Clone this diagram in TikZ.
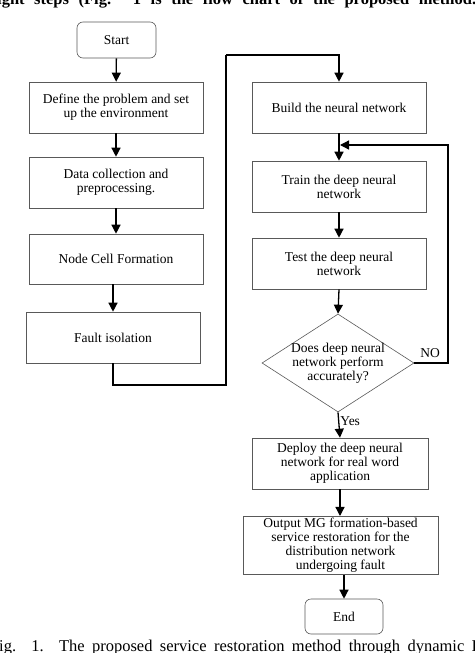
\documentclass[tikz,border=0pt]{standalone}
\usepackage{fontspec}
\setmainfont{Liberation Serif}
\usetikzlibrary{shapes.geometric,arrows.meta}
\begin{document}
\begin{tikzpicture}[x=1pt,y=-1pt,
  box/.style={draw=black!65, line width=0.6pt, minimum width=174pt, minimum height=51pt, align=center, inner sep=2pt, font=\fontsize{13.5}{14}\selectfont},
  term/.style={box, rounded corners=6pt},
  arr/.style={line width=1.3pt, -{Triangle[width=9pt,length=9pt]}},
  ln/.style={line width=1.3pt},
  lab/.style={font=\fontsize{13.5}{14}\selectfont, inner sep=1pt}]
\useasboundingbox (0,0) rectangle (474,653);
\clip (0,0) rectangle (474,653);
% clipped surrounding text
\node[anchor=base west, inner sep=0, font=\fontsize{16.5}{18}\selectfont\bfseries] (toptext) at (-3,5)
  {\makebox[479pt][s]{ight steps (Fig. 1 is the flow chart of the proposed method.}};
\node[anchor=base west, inner sep=0, font=\fontsize{16.5}{18}\selectfont] (caption) at (-1,651)
  {\makebox[478pt][s]{ig. 1. The proposed service restoration method through dynamic I}};
% left column
\node[term, minimum width=79pt, minimum height=36pt] (start) at (116.5,40) {Start};
\node[box] (define) at (116,107.5) {Define the problem and set\\up the environment};
\node[box] (data) at (116,182.5) {Data collection and\\preprocessing.};
\node[box, minimum height=50pt] (cell) at (116,259) {Node Cell Formation};
\node[box] (fault) at (113,337.5) {Fault isolation};
% right column
\node[box] (build) at (339,107.5) {Build the neural network};
\node[box] (train) at (339,186.5) {Train the deep neural\\network};
\node[box] (test) at (339,263.5) {Test the deep neural\\network};
\node[draw=black!65, line width=0.6pt, diamond, minimum width=152pt, minimum height=98pt, inner sep=0pt] (dec) at (338,363) {};
\node[align=center, font=\fontsize{13.5}{14}\selectfont, inner sep=0pt] (dectext) at (dec.center) {Does deep neural\\network perform\\accurately?};
\node[box, minimum width=176pt] (deploy) at (340,463.5) {Deploy the deep neural\\network for real word\\application};
\node[box, minimum width=195pt, minimum height=57pt] (output) at (340.5,545.5) {Output MG formation-based\\service restoration for the\\distribution network\\undergoing fault};
\node[term, minimum width=78pt, minimum height=35pt] (end) at (344,616.5) {End};
% helper coordinates
\coordinate (c1) at (226,385);
\coordinate (c2) at (226,55);
\coordinate (nr) at (448,363);
\coordinate (j) at (339,145);
% connectors
\draw[arr] (start) -- (define);
\draw[arr] (define) -- (data);
\draw[arr] (data) -- (cell);
\draw[arr] (fault.north |- cell.south) -- (fault.north);
\draw[ln] (fault.south) |- (c1) -- (c2);
\draw[arr] (c2) -| (build.north);
\draw[arr] (build) -- (train);
\draw[arr] (train) -- (test);
\draw[arr] (test.south) -- (dec.north);
\draw[arr] (dec.south) -- node[lab, anchor=west, pos=0.35] (yes) {Yes} (deploy.north);
\draw[arr] (dec.east) -- (nr) |- ([xshift=1pt]j);
\node[lab, anchor=south] (no) at (430,359) {NO};
\draw[arr] (deploy) -- (output.north -| deploy.south);
\draw[arr] (end.north |- output.south) -- (end.north);
\end{tikzpicture}
\end{document}
